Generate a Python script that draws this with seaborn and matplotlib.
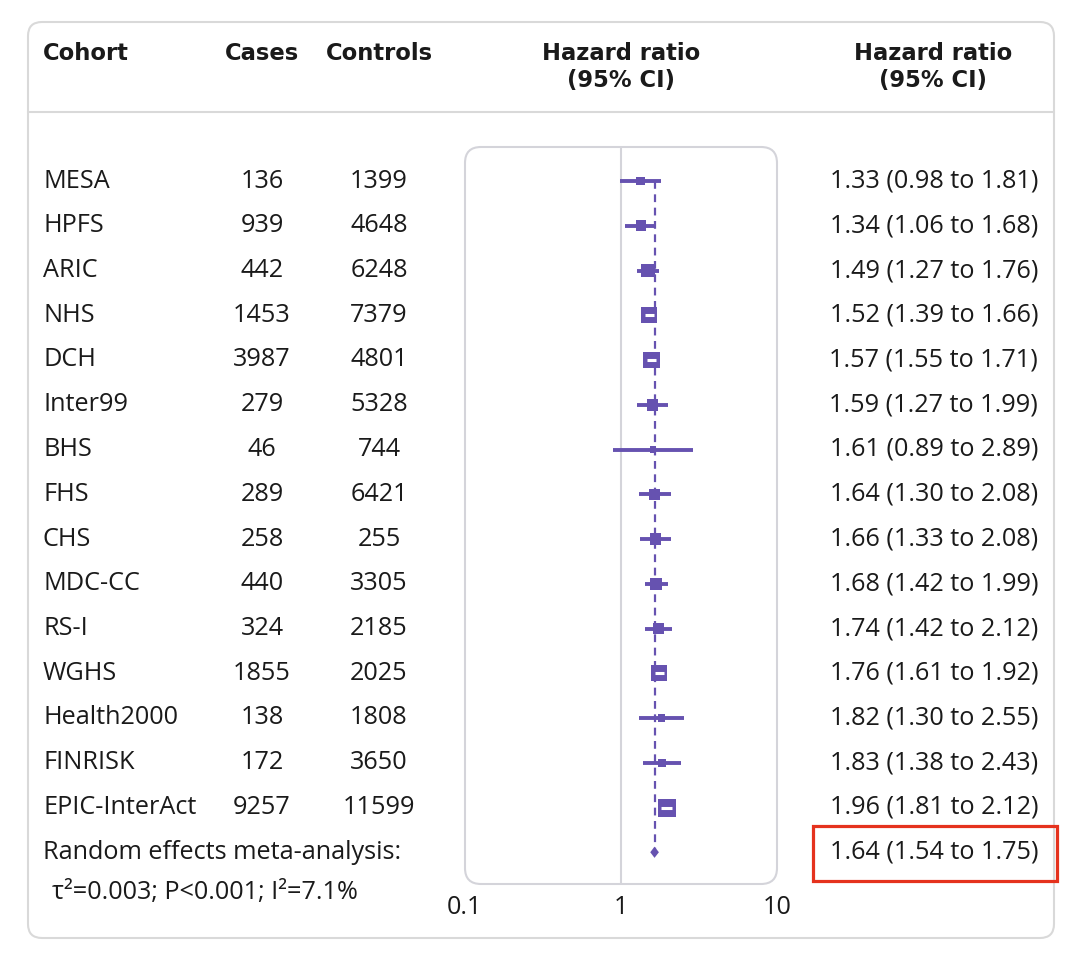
import numpy as np
import pandas as pd
import matplotlib
matplotlib.use("Agg")
import matplotlib.pyplot as plt
import seaborn as sns
from matplotlib.patches import FancyBboxPatch, Rectangle
from matplotlib.transforms import blended_transform_factory

# ---------------- data ----------------
cohorts = ["MESA", "HPFS", "ARIC", "NHS", "DCH", "Inter99", "BHS", "FHS", "CHS",
           "MDC-CC", "RS-I", "WGHS", "Health2000", "FINRISK", "EPIC-InterAct"]
cases = [136, 939, 442, 1453, 3987, 279, 46, 289, 258, 440, 324, 1855, 138, 172, 9257]
controls = [1399, 4648, 6248, 7379, 4801, 5328, 744, 6421, 255, 3305, 2185, 2025, 1808, 3650, 11599]
hr = [1.33, 1.34, 1.49, 1.52, 1.57, 1.59, 1.61, 1.64, 1.66, 1.68, 1.74, 1.76, 1.82, 1.83, 1.96]
ci_low = [0.98, 1.06, 1.27, 1.39, 1.55, 1.27, 0.89, 1.30, 1.33, 1.42, 1.42, 1.61, 1.30, 1.38, 1.81]
ci_high = [1.81, 1.68, 1.76, 1.66, 1.71, 1.99, 2.89, 2.08, 2.08, 1.99, 2.12, 1.92, 2.55, 2.43, 2.12]
weights = [3.1, 4.8, 8.2, 10.9, 11.6, 5.9, 1.75, 5.3, 5.3, 6.4, 5.9, 10.9, 2.4, 3.1, 14.0]
meta_hr, meta_low, meta_high = 1.64, 1.54, 1.75
meta_label = "Random effects meta-analysis:"
meta_stats = "\u03c4\u00b2=0.003; P<0.001; I\u00b2=7.1%"
x_ticks = [0.1, 1, 10]
x_tick_labels = ["0.1", "1", "10"]
headers = ["Cohort", "Cases", "Controls", "Hazard ratio", "(95% CI)"]

df = pd.DataFrame({"cohort": cohorts, "cases": cases, "controls": controls,
                   "hr": hr, "lo": ci_low, "hi": ci_high, "w": weights})
df["row"] = np.arange(len(df))
n = len(df)

# ---------------- style ----------------
sns.set_theme(style="white")
plt.rcParams["font.family"] = ["Open Sans", "DejaVu Sans"]
PURPLE = "#6652b0"
GREY = "#d4d4da"
TXT = "#1a1a1a"
FS = 18.2
HFS = 16.3

W, H = 1080, 961
fig = plt.figure(figsize=(W / 100, H / 100), dpi=100)
fig.patch.set_facecolor("white")
bg = fig.add_axes([0, 0, 1, 1])
bg.set_xlim(0, W)
bg.set_ylim(H, 0)
bg.axis("off")

# outer rounded frame + header separator
bg.add_patch(FancyBboxPatch((28, 22), 1026, 916, boxstyle="round,pad=0,rounding_size=14",
                            fc="none", ec="#d9d9d9", lw=1.5))
bg.plot([28, 1054], [112, 112], color="#d9d9d9", lw=1.5)

# forest axes
fx0, fx1, fy0, fy1 = 465, 777, 147, 884
row0, step = 181, 44.75
ax = fig.add_axes([fx0 / W, 1 - fy1 / H, (fx1 - fx0) / W, (fy1 - fy0) / H])
ax.set_facecolor("none")
bg.add_patch(FancyBboxPatch((fx0, fy0), fx1 - fx0, fy1 - fy0, boxstyle="round,pad=0,rounding_size=16",
                            fc="none", ec=GREY, lw=1.5))

ax.axvline(1, color=GREY, lw=1.5, zorder=0)
ax.vlines(meta_hr, 0, n, colors=PURPLE, lw=1.6, linestyles=(0, (3.5, 2.5)), zorder=1)
ax.hlines(df["row"], df["lo"], df["hi"], colors=PURPLE, lw=2.8, zorder=2)

wmax = df["w"].max()
side_max_pt = 18 * 0.72
sns.scatterplot(data=df, x="hr", y="row", size="w", sizes=(0, side_max_pt ** 2),
                size_norm=(0, wmax), marker="s", color=PURPLE, linewidth=0,
                legend=False, ax=ax, zorder=3)
big = df[df["w"] >= 10]
band_len = (np.sqrt(big["w"] / wmax) * side_max_pt * 0.6) ** 2
ax.scatter(big["hr"], big["row"], marker="_", s=band_len, linewidths=2.2, color="white", zorder=4)

# meta diamond
ax.fill([meta_low, meta_hr, meta_high, meta_hr], [n, n - 0.125, n, n + 0.125],
        color=PURPLE, lw=0, zorder=3)

ax.set_xscale("log")
ax.set_xlim(0.1, 10)
ax.set_ylim((fy1 - row0) / step, (fy0 - row0) / step)
ax.minorticks_off()
ax.set_xticks(x_ticks, x_tick_labels)
ax.set_yticks([])
ax.tick_params(axis="x", length=0, pad=8, labelsize=FS, colors=TXT)
ax.set_xlabel("")
ax.set_ylabel("")
ax.grid(False)
for s in ax.spines.values():
    s.set_visible(False)

# table text
tr = blended_transform_factory(bg.transData, ax.transData)
for _, r in df.iterrows():
    y = r["row"]
    bg.text(43, y, r["cohort"], transform=tr, ha="left", va="center", fontsize=FS, color=TXT)
    bg.text(262, y, f"{int(r['cases'])}", transform=tr, ha="center", va="center", fontsize=FS, color=TXT)
    bg.text(379, y, f"{int(r['controls'])}", transform=tr, ha="center", va="center", fontsize=FS, color=TXT)
    bg.text(1038, y, f"{r['hr']:.2f} ({r['lo']:.2f} to {r['hi']:.2f})", transform=tr,
            ha="right", va="center", fontsize=FS, color=TXT)

bg.text(43, n, meta_label, transform=tr, ha="left", va="center", fontsize=FS, color=TXT)
bg.text(1038, n, f"{meta_hr:.2f} ({meta_low:.2f} to {meta_high:.2f})", transform=tr,
        ha="right", va="center", fontsize=FS, color=TXT)
bg.text(52, 893, meta_stats, ha="left", va="center", fontsize=FS, color=TXT)
bg.add_patch(Rectangle((813, 826), 244, 55, fc="none", ec="#e5321d", lw=2.3))

# headers
hk = dict(fontsize=HFS, fontweight="bold", color=TXT, family="DejaVu Sans", va="center")
bg.text(43, 54, headers[0], ha="left", **hk)
bg.text(262, 54, headers[1], ha="center", **hk)
bg.text(379, 54, headers[2], ha="center", **hk)
for cx in (621, 933):
    bg.text(cx, 54, headers[3], ha="center", **hk)
    bg.text(cx, 80, headers[4], ha="center", **hk)

fig.savefig("out.png", dpi=100)
